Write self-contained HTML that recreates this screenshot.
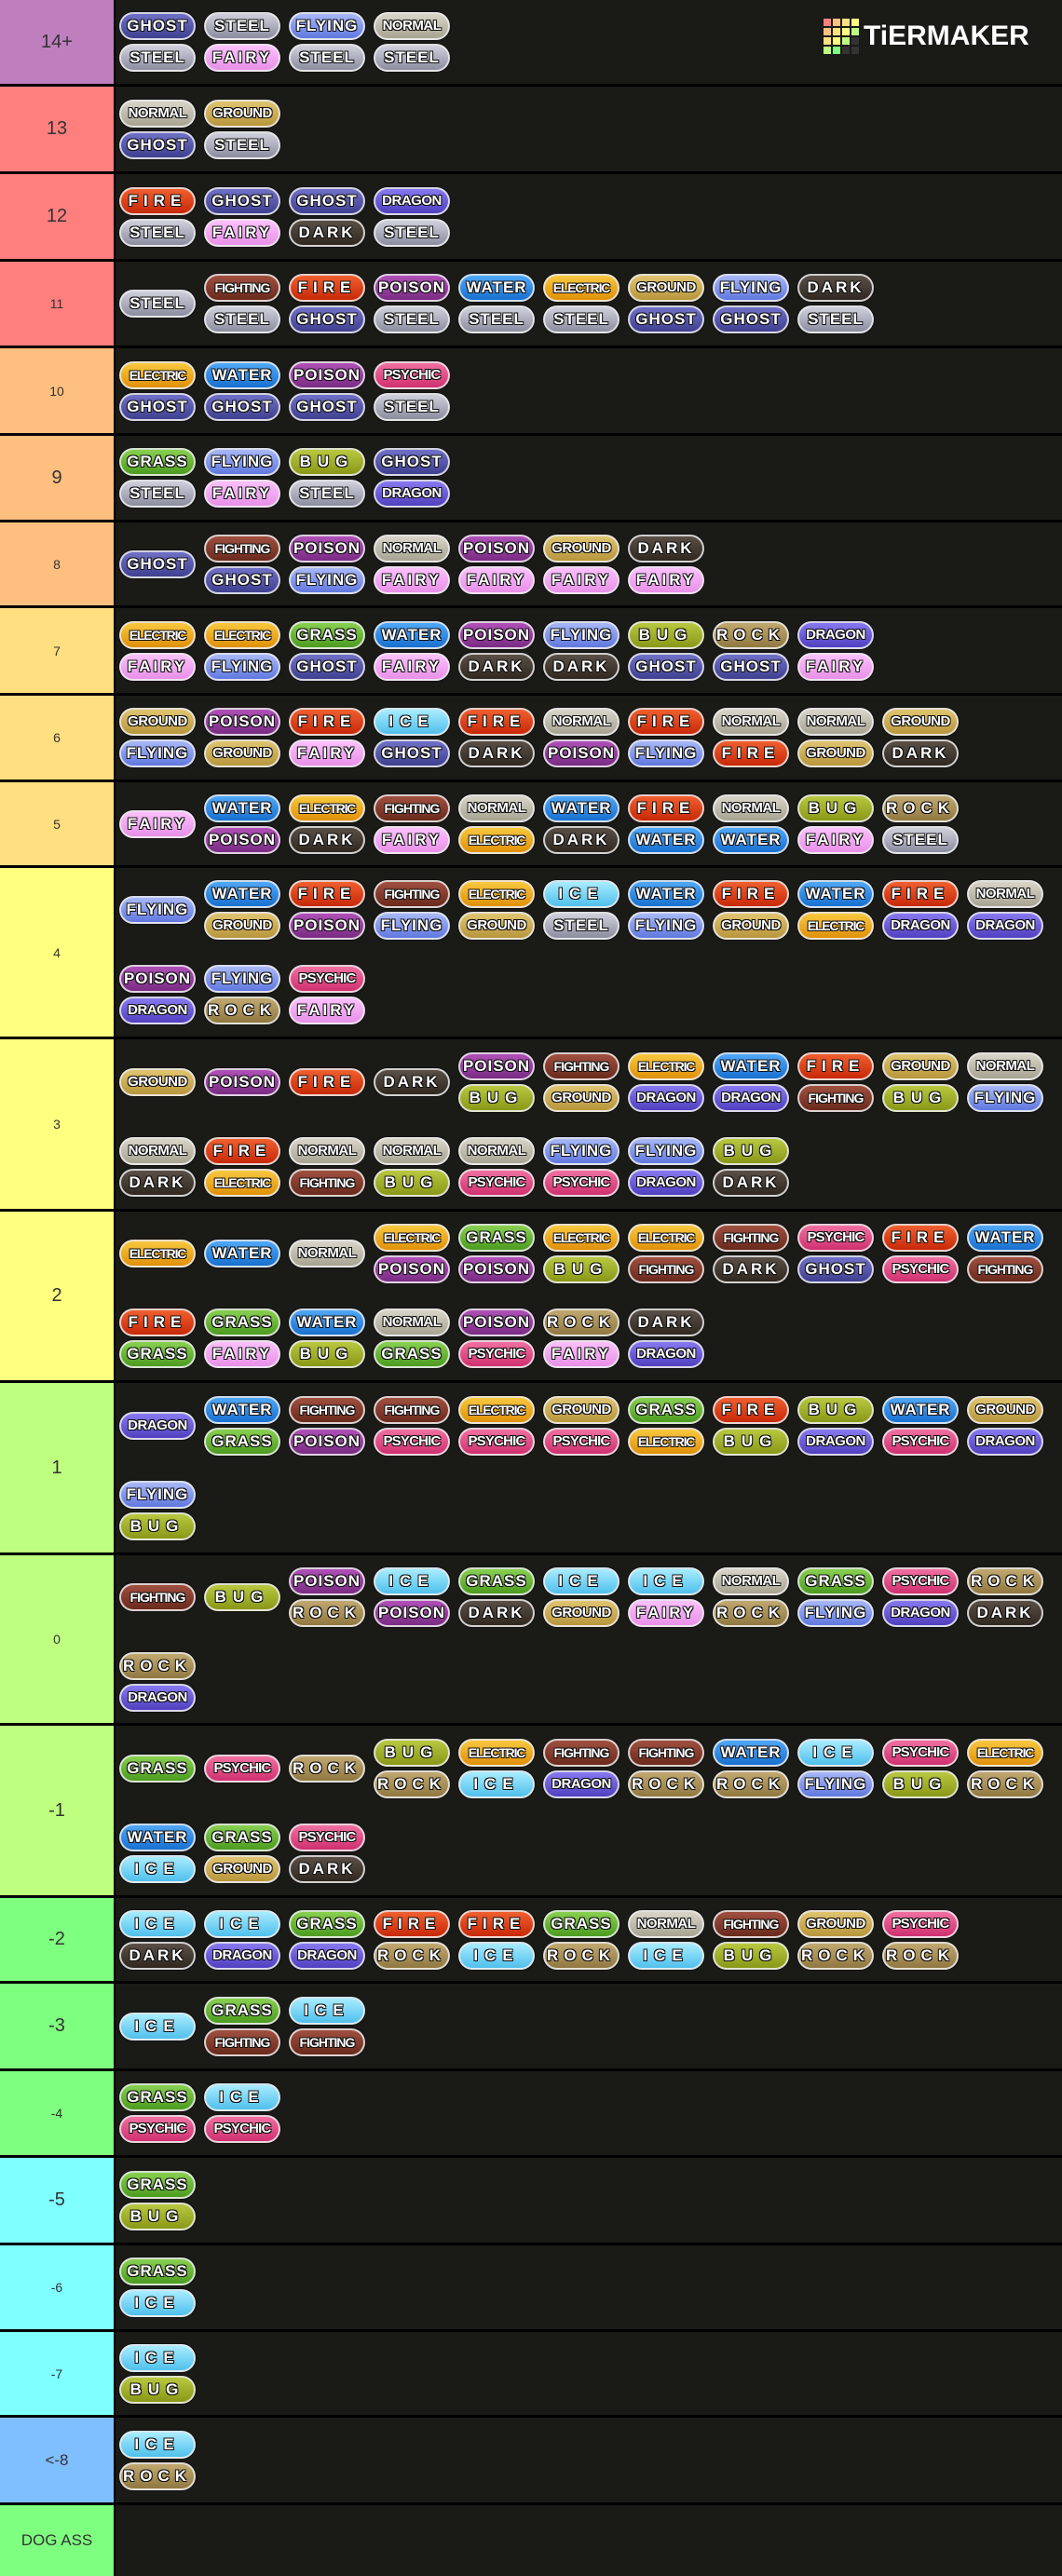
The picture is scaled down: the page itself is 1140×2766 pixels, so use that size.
<!DOCTYPE html>
<html><head><meta charset="utf-8"><style>
*{box-sizing:border-box;margin:0;padding:0}
body{width:1140px;height:2766px;background:#000;font-family:"Liberation Sans",sans-serif;overflow:hidden;position:relative}
.r{display:flex;border-bottom:3px solid #000;background:#1a1a17}
.l{width:124px;flex:none;display:flex;align-items:center;justify-content:center;color:#333;font-size:20px;border-right:2px solid #000}
.l.s{font-size:14px}
.ct{flex:1;display:flex;flex-wrap:wrap;align-content:center;padding-left:4px}
.c{width:82px;margin-right:9px;height:91px;display:flex;flex-direction:column;justify-content:center;gap:4px}
b{display:block;height:30px;border-radius:15px;border:2px solid rgba(235,235,235,.85);box-shadow:0 0 0 1px #111;color:#fff;font-weight:bold;font-size:17px;text-align:center;line-height:26px;letter-spacing:1px;text-shadow:-1px -1px 0 #111,1px -1px 0 #111,-1px 1px 0 #111,1px 1px 0 #111,0 1px 0 #111,0 -1px 0 #111;overflow:hidden;white-space:nowrap}
.no{background:linear-gradient(#d8d4c8,#a8a492);font-size:15px;letter-spacing:-.5px}
.fi{background:linear-gradient(#f06030,#c82808);letter-spacing:6px}
.fg{background:linear-gradient(#a05040,#6a2a1c);font-size:14px;letter-spacing:-1px}
.fl{background:linear-gradient(#a8b8f8,#6078e0)}
.po{background:linear-gradient(#b050b8,#7a2c84)}
.gr{background:linear-gradient(#e0c470,#b8963c);font-size:15px;letter-spacing:-.5px}
.ro{background:linear-gradient(#c0a870,#907840);letter-spacing:6px}
.bu{background:linear-gradient(#b8c840,#8a9818);letter-spacing:7px}
.gh{background:linear-gradient(#7070c8,#404090)}
.st{background:linear-gradient(#d0d0dc,#8c8ca0)}
.wa{background:linear-gradient(#50a8f8,#1870d0)}
.gs{background:linear-gradient(#88d050,#4c9c20)}
.el{background:linear-gradient(#f8c840,#e09008);font-size:14px;letter-spacing:-1.2px}
.ps{background:linear-gradient(#f070a0,#d03070);font-size:15px;letter-spacing:-.8px}
.ic{background:linear-gradient(#a8ecff,#50c0ec);letter-spacing:7px}
.dr{background:linear-gradient(#8878f0,#5040c0);font-size:15px;letter-spacing:-.5px}
.da{background:linear-gradient(#5a5048,#302820);letter-spacing:3px}
.fa{background:linear-gradient(#fcc0fc,#e890e8);letter-spacing:3px}
#logo{position:absolute;left:884px;top:20px;display:flex;align-items:center;gap:5px}
#logo .g{display:grid;grid-template-columns:repeat(4,8px);gap:2px}
#logo .g i{width:8px;height:8px;display:block}
#logo span{color:#fff;font-weight:bold;font-size:30px;letter-spacing:0}
</style></head><body>
<div id="logo"><div class="g"><i style="background:#ff7f7f"></i><i style="background:#ffbf7f"></i><i style="background:#ffdf7f"></i><i style="background:#ffff7f"></i><i style="background:#ffbf7f"></i><i style="background:#ffdf7f"></i><i style="background:#ffff7f"></i><i style="background:#bfff7f"></i><i style="background:#ffdf7f"></i><i style="background:#ffff7f"></i><i style="background:#bfff7f"></i><i style="background:#333"></i><i style="background:#bfff7f"></i><i style="background:#7fff7f"></i><i style="background:#333"></i><i style="background:#333"></i></div><span>TiERMAKER</span></div>

<div class="r" style="height:93px"><div class="l" style="background:#bf7fbf">14+</div><div class="ct">
<div class="c"><b class="gh">GHOST</b><b class="st">STEEL</b></div><div class="c"><b class="st">STEEL</b><b class="fa">FAIRY</b></div><div class="c"><b class="fl">FLYING</b><b class="st">STEEL</b></div><div class="c"><b class="no">NORMAL</b><b class="st">STEEL</b></div></div></div>

<div class="r" style="height:94px"><div class="l" style="background:#ff7f7f">13</div><div class="ct">
<div class="c"><b class="no">NORMAL</b><b class="gh">GHOST</b></div><div class="c"><b class="gr">GROUND</b><b class="st">STEEL</b></div></div></div>

<div class="r" style="height:94px"><div class="l" style="background:#ff7f7f">12</div><div class="ct">
<div class="c"><b class="fi">FIRE</b><b class="st">STEEL</b></div><div class="c"><b class="gh">GHOST</b><b class="fa">FAIRY</b></div><div class="c"><b class="gh">GHOST</b><b class="da">DARK</b></div><div class="c"><b class="dr">DRAGON</b><b class="st">STEEL</b></div></div></div>

<div class="r" style="height:93px"><div class="l s" style="background:#ff7f7f">11</div><div class="ct">
<div class="c"><b class="st">STEEL</b></div><div class="c"><b class="fg">FIGHTING</b><b class="st">STEEL</b></div><div class="c"><b class="fi">FIRE</b><b class="gh">GHOST</b></div><div class="c"><b class="po">POISON</b><b class="st">STEEL</b></div><div class="c"><b class="wa">WATER</b><b class="st">STEEL</b></div><div class="c"><b class="el">ELECTRIC</b><b class="st">STEEL</b></div><div class="c"><b class="gr">GROUND</b><b class="gh">GHOST</b></div><div class="c"><b class="fl">FLYING</b><b class="gh">GHOST</b></div><div class="c"><b class="da">DARK</b><b class="st">STEEL</b></div></div></div>

<div class="r" style="height:94px"><div class="l s" style="background:#ffbf7f">10</div><div class="ct">
<div class="c"><b class="el">ELECTRIC</b><b class="gh">GHOST</b></div><div class="c"><b class="wa">WATER</b><b class="gh">GHOST</b></div><div class="c"><b class="po">POISON</b><b class="gh">GHOST</b></div><div class="c"><b class="ps">PSYCHIC</b><b class="st">STEEL</b></div></div></div>

<div class="r" style="height:93px"><div class="l" style="background:#ffbf7f">9</div><div class="ct">
<div class="c"><b class="gs">GRASS</b><b class="st">STEEL</b></div><div class="c"><b class="fl">FLYING</b><b class="fa">FAIRY</b></div><div class="c"><b class="bu">BUG</b><b class="st">STEEL</b></div><div class="c"><b class="gh">GHOST</b><b class="dr">DRAGON</b></div></div></div>

<div class="r" style="height:92px"><div class="l s" style="background:#ffbf7f">8</div><div class="ct">
<div class="c"><b class="gh">GHOST</b></div><div class="c"><b class="fg">FIGHTING</b><b class="gh">GHOST</b></div><div class="c"><b class="po">POISON</b><b class="fl">FLYING</b></div><div class="c"><b class="no">NORMAL</b><b class="fa">FAIRY</b></div><div class="c"><b class="po">POISON</b><b class="fa">FAIRY</b></div><div class="c"><b class="gr">GROUND</b><b class="fa">FAIRY</b></div><div class="c"><b class="da">DARK</b><b class="fa">FAIRY</b></div></div></div>

<div class="r" style="height:94px"><div class="l s" style="background:#ffdf7f">7</div><div class="ct">
<div class="c"><b class="el">ELECTRIC</b><b class="fa">FAIRY</b></div><div class="c"><b class="el">ELECTRIC</b><b class="fl">FLYING</b></div><div class="c"><b class="gs">GRASS</b><b class="gh">GHOST</b></div><div class="c"><b class="wa">WATER</b><b class="fa">FAIRY</b></div><div class="c"><b class="po">POISON</b><b class="da">DARK</b></div><div class="c"><b class="fl">FLYING</b><b class="da">DARK</b></div><div class="c"><b class="bu">BUG</b><b class="gh">GHOST</b></div><div class="c"><b class="ro">ROCK</b><b class="gh">GHOST</b></div><div class="c"><b class="dr">DRAGON</b><b class="fa">FAIRY</b></div></div></div>

<div class="r" style="height:93px"><div class="l s" style="background:#ffdf7f">6</div><div class="ct">
<div class="c"><b class="gr">GROUND</b><b class="fl">FLYING</b></div><div class="c"><b class="po">POISON</b><b class="gr">GROUND</b></div><div class="c"><b class="fi">FIRE</b><b class="fa">FAIRY</b></div><div class="c"><b class="ic">ICE</b><b class="gh">GHOST</b></div><div class="c"><b class="fi">FIRE</b><b class="da">DARK</b></div><div class="c"><b class="no">NORMAL</b><b class="po">POISON</b></div><div class="c"><b class="fi">FIRE</b><b class="fl">FLYING</b></div><div class="c"><b class="no">NORMAL</b><b class="fi">FIRE</b></div><div class="c"><b class="no">NORMAL</b><b class="gr">GROUND</b></div><div class="c"><b class="gr">GROUND</b><b class="da">DARK</b></div></div></div>

<div class="r" style="height:92px"><div class="l s" style="background:#ffdf7f">5</div><div class="ct">
<div class="c"><b class="fa">FAIRY</b></div><div class="c"><b class="wa">WATER</b><b class="po">POISON</b></div><div class="c"><b class="el">ELECTRIC</b><b class="da">DARK</b></div><div class="c"><b class="fg">FIGHTING</b><b class="fa">FAIRY</b></div><div class="c"><b class="no">NORMAL</b><b class="el">ELECTRIC</b></div><div class="c"><b class="wa">WATER</b><b class="da">DARK</b></div><div class="c"><b class="fi">FIRE</b><b class="wa">WATER</b></div><div class="c"><b class="no">NORMAL</b><b class="wa">WATER</b></div><div class="c"><b class="bu">BUG</b><b class="fa">FAIRY</b></div><div class="c"><b class="ro">ROCK</b><b class="st">STEEL</b></div></div></div>

<div class="r" style="height:184px"><div class="l s" style="background:#ffff7f">4</div><div class="ct">
<div class="c"><b class="fl">FLYING</b></div><div class="c"><b class="wa">WATER</b><b class="gr">GROUND</b></div><div class="c"><b class="fi">FIRE</b><b class="po">POISON</b></div><div class="c"><b class="fg">FIGHTING</b><b class="fl">FLYING</b></div><div class="c"><b class="el">ELECTRIC</b><b class="gr">GROUND</b></div><div class="c"><b class="ic">ICE</b><b class="st">STEEL</b></div><div class="c"><b class="wa">WATER</b><b class="fl">FLYING</b></div><div class="c"><b class="fi">FIRE</b><b class="gr">GROUND</b></div><div class="c"><b class="wa">WATER</b><b class="el">ELECTRIC</b></div><div class="c"><b class="fi">FIRE</b><b class="dr">DRAGON</b></div><div class="c"><b class="no">NORMAL</b><b class="dr">DRAGON</b></div>
<div class="c"><b class="po">POISON</b><b class="dr">DRAGON</b></div><div class="c"><b class="fl">FLYING</b><b class="ro">ROCK</b></div><div class="c"><b class="ps">PSYCHIC</b><b class="fa">FAIRY</b></div></div></div>

<div class="r" style="height:185px"><div class="l s" style="background:#ffff7f">3</div><div class="ct">
<div class="c"><b class="gr">GROUND</b></div><div class="c"><b class="po">POISON</b></div><div class="c"><b class="fi">FIRE</b></div><div class="c"><b class="da">DARK</b></div><div class="c"><b class="po">POISON</b><b class="bu">BUG</b></div><div class="c"><b class="fg">FIGHTING</b><b class="gr">GROUND</b></div><div class="c"><b class="el">ELECTRIC</b><b class="dr">DRAGON</b></div><div class="c"><b class="wa">WATER</b><b class="dr">DRAGON</b></div><div class="c"><b class="fi">FIRE</b><b class="fg">FIGHTING</b></div><div class="c"><b class="gr">GROUND</b><b class="bu">BUG</b></div><div class="c"><b class="no">NORMAL</b><b class="fl">FLYING</b></div>
<div class="c"><b class="no">NORMAL</b><b class="da">DARK</b></div><div class="c"><b class="fi">FIRE</b><b class="el">ELECTRIC</b></div><div class="c"><b class="no">NORMAL</b><b class="fg">FIGHTING</b></div><div class="c"><b class="no">NORMAL</b><b class="bu">BUG</b></div><div class="c"><b class="no">NORMAL</b><b class="ps">PSYCHIC</b></div><div class="c"><b class="fl">FLYING</b><b class="ps">PSYCHIC</b></div><div class="c"><b class="fl">FLYING</b><b class="dr">DRAGON</b></div><div class="c"><b class="bu">BUG</b><b class="da">DARK</b></div></div></div>

<div class="r" style="height:184px"><div class="l" style="background:#ffff7f">2</div><div class="ct">
<div class="c"><b class="el">ELECTRIC</b></div><div class="c"><b class="wa">WATER</b></div><div class="c"><b class="no">NORMAL</b></div><div class="c"><b class="el">ELECTRIC</b><b class="po">POISON</b></div><div class="c"><b class="gs">GRASS</b><b class="po">POISON</b></div><div class="c"><b class="el">ELECTRIC</b><b class="bu">BUG</b></div><div class="c"><b class="el">ELECTRIC</b><b class="fg">FIGHTING</b></div><div class="c"><b class="fg">FIGHTING</b><b class="da">DARK</b></div><div class="c"><b class="ps">PSYCHIC</b><b class="gh">GHOST</b></div><div class="c"><b class="fi">FIRE</b><b class="ps">PSYCHIC</b></div><div class="c"><b class="wa">WATER</b><b class="fg">FIGHTING</b></div>
<div class="c"><b class="fi">FIRE</b><b class="gs">GRASS</b></div><div class="c"><b class="gs">GRASS</b><b class="fa">FAIRY</b></div><div class="c"><b class="wa">WATER</b><b class="bu">BUG</b></div><div class="c"><b class="no">NORMAL</b><b class="gs">GRASS</b></div><div class="c"><b class="po">POISON</b><b class="ps">PSYCHIC</b></div><div class="c"><b class="ro">ROCK</b><b class="fa">FAIRY</b></div><div class="c"><b class="da">DARK</b><b class="dr">DRAGON</b></div></div></div>

<div class="r" style="height:185px"><div class="l" style="background:#bfff7f">1</div><div class="ct">
<div class="c"><b class="dr">DRAGON</b></div><div class="c"><b class="wa">WATER</b><b class="gs">GRASS</b></div><div class="c"><b class="fg">FIGHTING</b><b class="po">POISON</b></div><div class="c"><b class="fg">FIGHTING</b><b class="ps">PSYCHIC</b></div><div class="c"><b class="el">ELECTRIC</b><b class="ps">PSYCHIC</b></div><div class="c"><b class="gr">GROUND</b><b class="ps">PSYCHIC</b></div><div class="c"><b class="gs">GRASS</b><b class="el">ELECTRIC</b></div><div class="c"><b class="fi">FIRE</b><b class="bu">BUG</b></div><div class="c"><b class="bu">BUG</b><b class="dr">DRAGON</b></div><div class="c"><b class="wa">WATER</b><b class="ps">PSYCHIC</b></div><div class="c"><b class="gr">GROUND</b><b class="dr">DRAGON</b></div>
<div class="c"><b class="fl">FLYING</b><b class="bu">BUG</b></div></div></div>

<div class="r" style="height:183px"><div class="l s" style="background:#bfff7f">0</div><div class="ct">
<div class="c"><b class="fg">FIGHTING</b></div><div class="c"><b class="bu">BUG</b></div><div class="c"><b class="po">POISON</b><b class="ro">ROCK</b></div><div class="c"><b class="ic">ICE</b><b class="po">POISON</b></div><div class="c"><b class="gs">GRASS</b><b class="da">DARK</b></div><div class="c"><b class="ic">ICE</b><b class="gr">GROUND</b></div><div class="c"><b class="ic">ICE</b><b class="fa">FAIRY</b></div><div class="c"><b class="no">NORMAL</b><b class="ro">ROCK</b></div><div class="c"><b class="gs">GRASS</b><b class="fl">FLYING</b></div><div class="c"><b class="ps">PSYCHIC</b><b class="dr">DRAGON</b></div><div class="c"><b class="ro">ROCK</b><b class="da">DARK</b></div>
<div class="c"><b class="ro">ROCK</b><b class="dr">DRAGON</b></div></div></div>

<div class="r" style="height:185px"><div class="l" style="background:#bfff7f">-1</div><div class="ct">
<div class="c"><b class="gs">GRASS</b></div><div class="c"><b class="ps">PSYCHIC</b></div><div class="c"><b class="ro">ROCK</b></div><div class="c"><b class="bu">BUG</b><b class="ro">ROCK</b></div><div class="c"><b class="el">ELECTRIC</b><b class="ic">ICE</b></div><div class="c"><b class="fg">FIGHTING</b><b class="dr">DRAGON</b></div><div class="c"><b class="fg">FIGHTING</b><b class="ro">ROCK</b></div><div class="c"><b class="wa">WATER</b><b class="ro">ROCK</b></div><div class="c"><b class="ic">ICE</b><b class="fl">FLYING</b></div><div class="c"><b class="ps">PSYCHIC</b><b class="bu">BUG</b></div><div class="c"><b class="el">ELECTRIC</b><b class="ro">ROCK</b></div>
<div class="c"><b class="wa">WATER</b><b class="ic">ICE</b></div><div class="c"><b class="gs">GRASS</b><b class="gr">GROUND</b></div><div class="c"><b class="ps">PSYCHIC</b><b class="da">DARK</b></div></div></div>

<div class="r" style="height:92px"><div class="l" style="background:#7fff7f">-2</div><div class="ct">
<div class="c"><b class="ic">ICE</b><b class="da">DARK</b></div><div class="c"><b class="ic">ICE</b><b class="dr">DRAGON</b></div><div class="c"><b class="gs">GRASS</b><b class="dr">DRAGON</b></div><div class="c"><b class="fi">FIRE</b><b class="ro">ROCK</b></div><div class="c"><b class="fi">FIRE</b><b class="ic">ICE</b></div><div class="c"><b class="gs">GRASS</b><b class="ro">ROCK</b></div><div class="c"><b class="no">NORMAL</b><b class="ic">ICE</b></div><div class="c"><b class="fg">FIGHTING</b><b class="bu">BUG</b></div><div class="c"><b class="gr">GROUND</b><b class="ro">ROCK</b></div><div class="c"><b class="ps">PSYCHIC</b><b class="ro">ROCK</b></div></div></div>

<div class="r" style="height:94px"><div class="l" style="background:#7fff7f">-3</div><div class="ct">
<div class="c"><b class="ic">ICE</b></div><div class="c"><b class="gs">GRASS</b><b class="fg">FIGHTING</b></div><div class="c"><b class="ic">ICE</b><b class="fg">FIGHTING</b></div></div></div>

<div class="r" style="height:93px"><div class="l s" style="background:#7fff7f">-4</div><div class="ct">
<div class="c"><b class="gs">GRASS</b><b class="ps">PSYCHIC</b></div><div class="c"><b class="ic">ICE</b><b class="ps">PSYCHIC</b></div></div></div>

<div class="r" style="height:94px"><div class="l" style="background:#7fffff">-5</div><div class="ct">
<div class="c"><b class="gs">GRASS</b><b class="bu">BUG</b></div></div></div>

<div class="r" style="height:93px"><div class="l s" style="background:#7fffff">-6</div><div class="ct">
<div class="c"><b class="gs">GRASS</b><b class="ic">ICE</b></div></div></div>

<div class="r" style="height:92px"><div class="l s" style="background:#7fffff">-7</div><div class="ct">
<div class="c"><b class="ic">ICE</b><b class="bu">BUG</b></div></div></div>

<div class="r" style="height:94px"><div class="l" style="background:#7fbfff;font-size:17px">&lt;-8</div><div class="ct">
<div class="c"><b class="ic">ICE</b><b class="ro">ROCK</b></div></div></div>

<div class="r" style="height:76px;border-bottom:0"><div class="l" style="background:#7fff7f;font-size:17px">DOG ASS</div><div class="ct"></div></div>
</body></html>
